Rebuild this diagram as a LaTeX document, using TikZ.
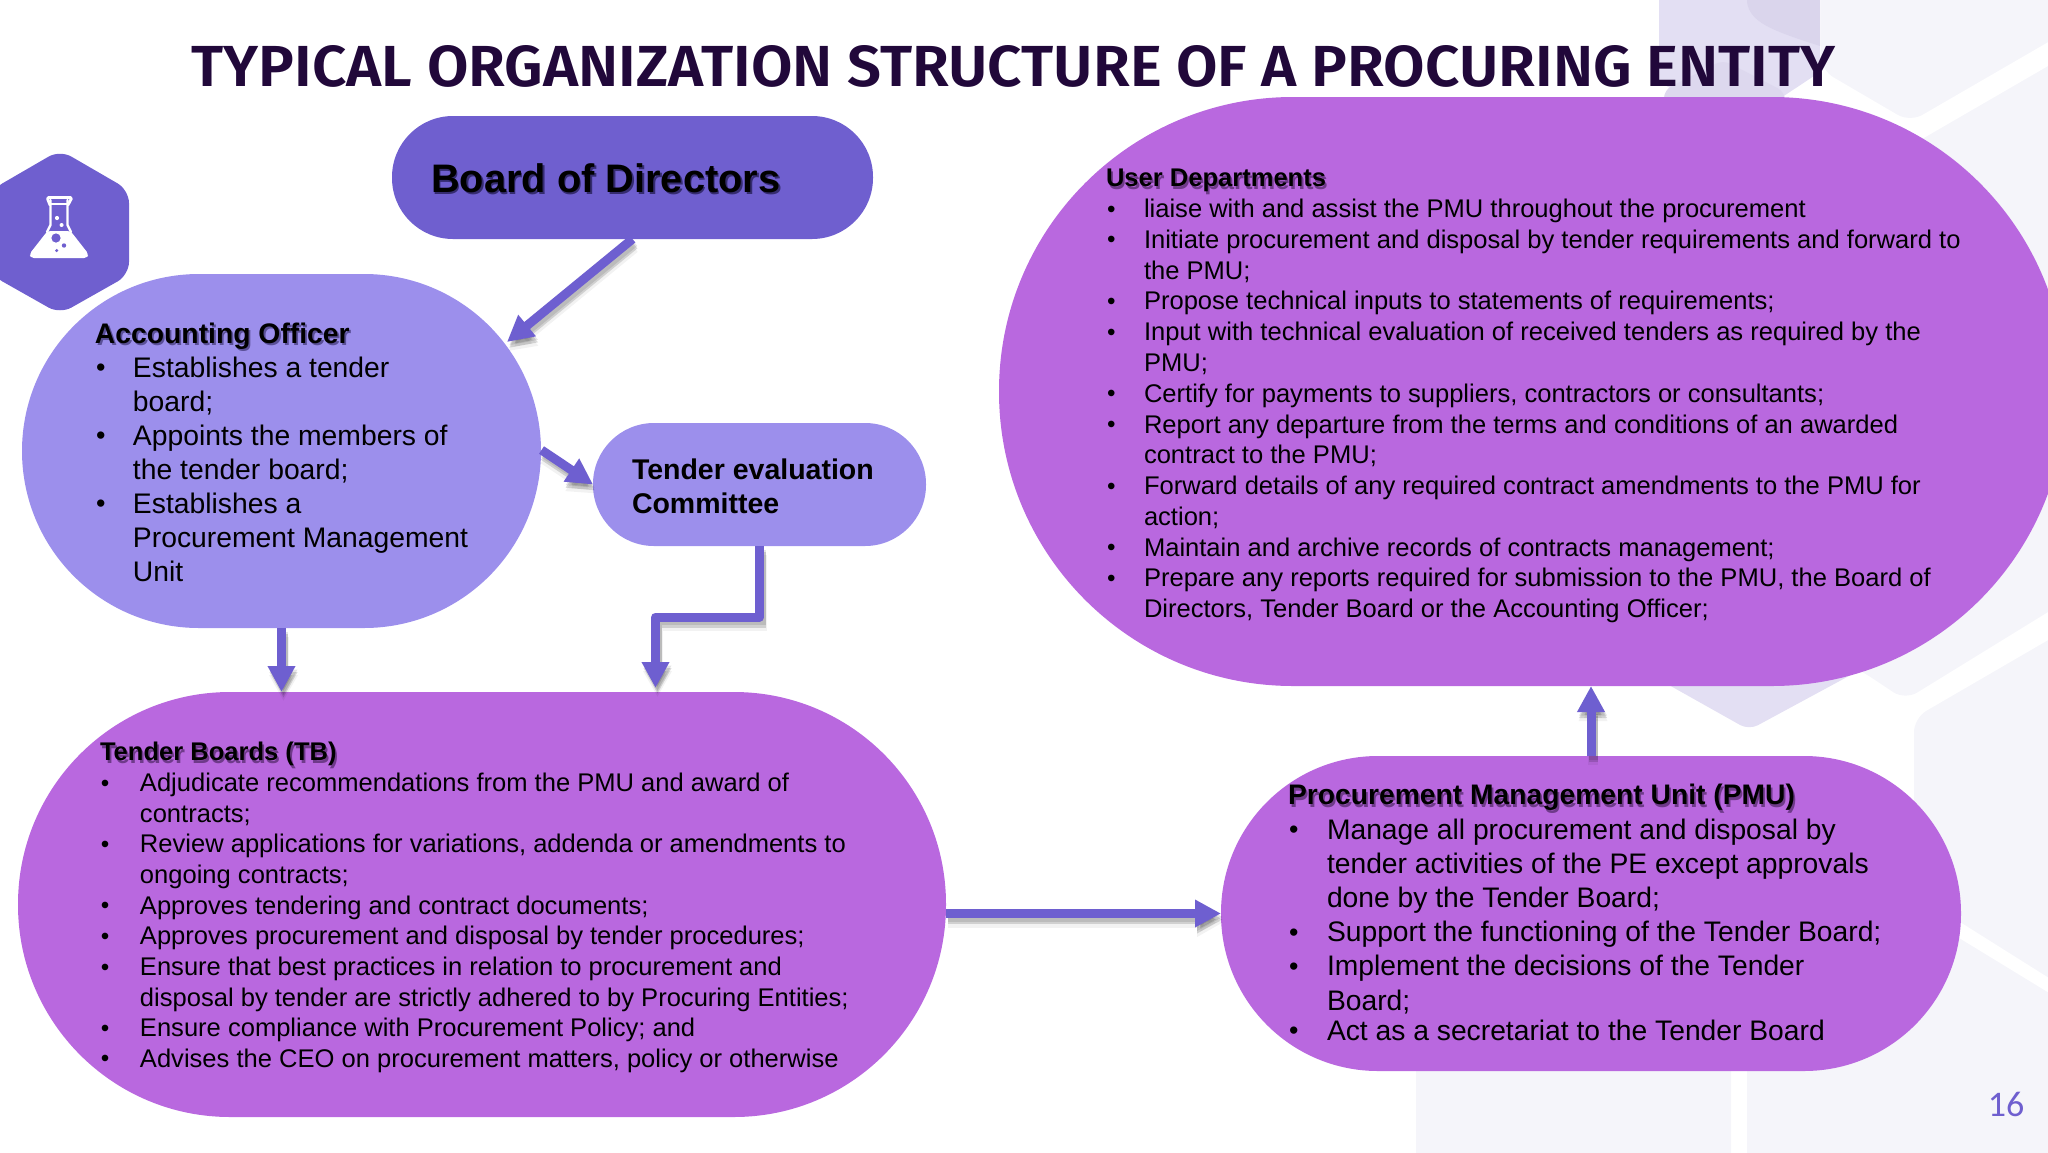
\documentclass[tikz,border=0pt]{standalone}
\usepackage{fontspec}
\usepackage{graphicx}
\setmainfont{Liberation Sans}
\newfontfamily\titlefont{Fira Sans SemiBold}
\newfontfamily\pagefont{Carlito}
\usetikzlibrary{calc,arrows.meta}
\definecolor{pillA}{HTML}{6F5FCF}
\definecolor{pillB}{HTML}{9C8FEC}
\definecolor{pillC}{HTML}{B968DF}
\definecolor{arrowcol}{HTML}{6E5FD0}
\definecolor{titlecol}{HTML}{21083A}
\definecolor{bgA}{HTML}{F5F5FA}
\definecolor{bgB}{HTML}{E3DFF3}
\definecolor{bgC}{HTML}{DAD5EC}
\definecolor{shA}{HTML}{352C70}
\definecolor{shB}{HTML}{5A5098}
\definecolor{shC}{HTML}{6F3A8A}
\newlength\lxA \newlength\lxB
\newcommand{\boxtext}[8]{\parbox[c][#2pt][t]{#1pt}{\vspace*{#3pt}\fontsize{#6pt}{#7pt}\selectfont\setlength\parskip{0pt}\setlength\lxA{#4pt}\setlength\lxB{#5pt}\raggedright #8}}
\newcommand{\shad}[2]{\leavevmode\rlap{\hspace{1.8pt}\raisebox{-2.2pt}{\textcolor{#1}{#2}}}#2}
\newcommand{\hd}[2]{\par\noindent\hspace*{\lxA}\strut{\bfseries\shad{#1}{#2}}}
\newcommand{\bu}[1]{\par\noindent\hspace*{\lxA}\makebox[0pt][l]{\hspace{1pt}\raisebox{0.5pt}{\scalebox{0.95}{\textbullet}}}\hspace*{\dimexpr\lxB-\lxA}\strut #1}
\newcommand{\ct}[1]{\par\noindent\hspace*{\lxB}\strut #1}
\tikzset{
  pill/.style={fill=#1,inner sep=0pt,outer sep=0pt,anchor=north west,align=left},
  conn/.style={draw=arrowcol,line width=9pt,line join=round,-{Triangle[length=26pt,width=26pt]},
    preaction={draw=black,opacity=0.10,line width=9pt,-{Triangle[length=26pt,width=26pt]},transform canvas={shift={(2pt,-3.5pt)}}},
    preaction={draw=black,opacity=0.14,line width=9pt,-{Triangle[length=26pt,width=26pt]},transform canvas={shift={(2pt,-6pt)}}},
    preaction={draw=black,opacity=0.05,line width=10pt,-{Triangle[length=26pt,width=27pt]},transform canvas={shift={(2pt,-9pt)}}}},
  bgshape/.style={fill=#1,rounded corners=14pt},
  flaskline/.style={draw=white,line width=2.4pt,line join=round,line cap=round},
}
\begin{document}
\begin{tikzpicture}[x=1pt,y=-1pt]
\useasboundingbox (0,0) rectangle (2048,1152);
\clip (0,0) rectangle (2048,1152);
% background hexagons
\fill[bgshape=bgA] (1416,1000) rectangle (1731,1190);
\fill[bgshape=bgA] (1747,1190) -- (1747,1000) -- (1900,902) -- (2090,1018) -- (2090,1190) -- cycle;
\fill[bgshape=bgA] (1914,893) -- (1914,718) -- (2100,610) -- (2100,1010) -- cycle;
\fill[bgshape=bgA] (1700,600) -- (1860,175) -- (2100,36) -- (2100,580) -- (1905,700) -- (1860,670) -- cycle;
\fill[bgshape=bgA] (1821,-40) -- (2100,-40) -- (2100,12) -- (1910,122) -- (1821,70) -- cycle;
\fill[bgB,rounded corners=3pt] (1659,-40) -- (1820,-40) -- (1820,72) -- (1740,125) -- (1659,82) -- cycle;
\fill[bgC!70!bgB,rounded corners=8pt] (1785,92) -- (1723,60) -- (1664,90) -- (1664,115) -- (1785,115) -- cycle;
\fill[bgC] (1747,-10) -- (1747,2) .. controls (1750,22) and (1770,30) .. (1820,46) -- (1820,-10) -- cycle;
\fill[bgB,rounded corners=10pt] (1670,600) -- (1860,600) -- (1860,670) -- (1749,730) -- (1660,680) -- cycle;
% hexagon with flask
\fill[pillA,rounded corners=13pt] (60,150) -- (129,190) -- (129,275) -- (60,314) -- (-9,275) -- (-9,190) -- cycle;
\draw[flaskline] (50.5,200) -- (50.5,225) -- (47,232);
\draw[flaskline] (67.5,200) -- (67.5,225) -- (71,232);
\draw[flaskline,rounded corners=1.5pt,line width=2.8pt] (50,205) -- (47,197.5) -- (72,197.5) -- (68,205);
\draw[flaskline] (50.5,204) -- (67.5,204);
\fill[white,rounded corners=3pt] (47.5,231) -- (70.5,231) -- (88.5,254) -- (87,258) -- (31,258) -- (29.5,254) -- cycle;
\fill[white] (57,218) circle (2.1) (61.6,225) circle (2);
\fill[pillA] (56,238) circle (4.6) (64,245.5) circle (2.2) (56.7,250.5) circle (1.7);
% title
\node[anchor=south,inner sep=0pt,text=titlecol] (title) at (1013.5,87.5) {\resizebox{1643pt}{41pt}{\titlefont TYPICAL ORGANIZATION STRUCTURE OF A PROCURING ENTITY}};
% boxes
\node[pill=pillA,rounded corners=61pt] (board) at (392,116) {\boxtext{481}{123}{45.3}{39}{39}{39.8}{44}{\hd{shA}{Board of Directors}}};
\node[pill=pillB,rounded corners=177pt] (ao) at (22,274) {\boxtext{519}{354}{45.3}{73}{111}{28.3}{34}{%
\hd{shB}{Accounting Officer}
\bu{Establishes a tender}
\ct{board;}
\bu{Appoints the members of}
\ct{the tender board;}
\bu{Establishes a}
\ct{Procurement Management}
\ct{Unit}}};
\node[pill=pillB,rounded corners=61pt] (te) at (593,423) {\boxtext{333}{123}{32.3}{39}{39}{28.5}{34}{%
{\bfseries\par\noindent\hspace*{\lxA}\strut Tender evaluation
\par\noindent\hspace*{\lxA}\strut Committee}}};
\node[pill=pillC,rounded corners=294pt] (ud) at (999,97) {\boxtext{1067}{589}{68.3}{107}{145}{25.55}{30.78}{%
\hd{shC}{User Departments}
\bu{liaise with and assist the PMU throughout the procurement}
\bu{Initiate procurement and disposal by tender requirements and forward to}
\ct{the PMU;}
\bu{Propose technical inputs to statements of requirements;}
\bu{Input with technical evaluation of received tenders as required by the}
\ct{PMU;}
\bu{Certify for payments to suppliers, contractors or consultants;}
\bu{Report any departure from the terms and conditions of an awarded}
\ct{contract to the PMU;}
\bu{Forward details of any required contract amendments to the PMU for}
\ct{action;}
\bu{Maintain and archive records of contracts management;}
\bu{Prepare any reports required for submission to the PMU, the Board of}
\ct{Directors, Tender Board or the Accounting Officer;}}};
\node[pill=pillC,rounded corners=212pt] (tb) at (18,692) {\boxtext{928}{425}{47.5}{82}{122}{25.55}{30.65}{%
\hd{shC}{Tender Boards (TB)}
\bu{Adjudicate recommendations from the PMU and award of}
\ct{contracts;}
\bu{Review applications for variations, addenda or amendments to}
\ct{ongoing contracts;}
\bu{Approves tendering and contract documents;}
\bu{Approves procurement and disposal by tender procedures;}
\bu{Ensure that best practices in relation to procurement and}
\ct{disposal by tender are strictly adhered to by Procuring Entities;}
\bu{Ensure compliance with Procurement Policy; and}
\bu{Advises the CEO on procurement matters, policy or otherwise}}};
\node[pill=pillC,rounded corners=157pt] (pmu) at (1221,756) {\boxtext{740}{315}{25}{67}{106}{28.25}{34.2}{%
\hd{shC}{Procurement Management Unit (PMU)}
\bu{Manage all procurement and disposal by}
\ct{tender activities of the PE except approvals}
\ct{done by the Tender Board;}
\bu{Support the functioning of the Tender Board;}
\bu{Implement the decisions of the Tender}
\ct{Board;}
\par\vspace{-4pt}
\bu{Act as a secretariat to the Tender Board}}};
% page number
\node[text=pillA,inner sep=0pt,font=\pagefont\fontsize{36pt}{40pt}\selectfont] (pageno) at (2006,1104) {16};
% connectors
\draw[conn] (board.south) -- ([shift={(225.5,-109)}]ao.center);
\draw[conn] ([shift={(260,-1)}]ao.center) -- (te.west);
\draw[conn] (ao.south) -- (ao.south |- tb.north);
\draw[conn] (te.south) -- ++(0,71) -- ++(-104,0) -- ++(0,71);
\draw[conn] (tb.east |- pmu.west) -- (pmu.west);
\draw[conn] (pmu.north) -- (pmu.north |- ud.south);
\end{tikzpicture}
\end{document}
